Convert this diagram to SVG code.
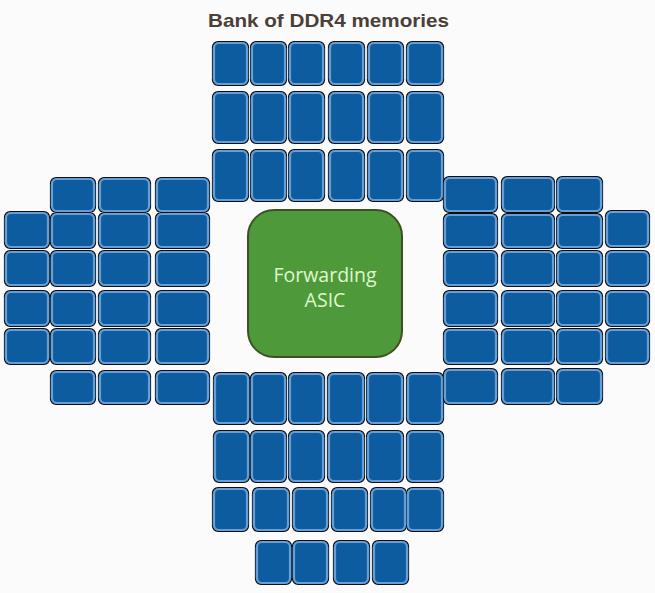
<svg xmlns="http://www.w3.org/2000/svg" width="655" height="593" viewBox="0 0 655 593">
<defs>
<filter id="outline" x="-5%" y="-5%" width="110%" height="110%">
<feMorphology in="SourceAlpha" operator="dilate" radius="1" result="d"/>
<feFlood flood-color="#111111"/>
<feComposite in2="d" operator="in" result="o"/>
<feMerge><feMergeNode in="o"/><feMergeNode in="SourceGraphic"/></feMerge>
</filter>
</defs>
<style>
.bank rect { fill:#0b5c9f; stroke:#669fd8; stroke-width:2.2; }
.title { font-family:"Liberation Sans", Arial, sans-serif; font-weight:bold; font-size:19px; fill:#4b4037; }
.asic-box { fill:#4e9a3a; stroke:#3f4f27; stroke-width:2; }
.asic-text { font-family:"Open Sans", "Noto Sans", sans-serif; font-size:19.5px; fill:#dff8cc; text-anchor:middle; }
</style>
<rect x="0" y="0" width="655" height="593" fill="#fbfbfb"/>
<text class="title" x="208" y="27" textLength="241" lengthAdjust="spacingAndGlyphs">Bank of DDR4 memories</text>

<g id="top-bank" class="bank" filter="url(#outline)">
<rect x="214" y="43" width="33" height="41" rx="5"/>
<rect x="252" y="43" width="33" height="41" rx="5"/>
<rect x="290" y="43" width="33" height="41" rx="5"/>
<rect x="330" y="43" width="33" height="41" rx="5"/>
<rect x="369" y="43" width="33" height="41" rx="5"/>
<rect x="408" y="43" width="34" height="41" rx="5"/>
<rect x="214" y="93" width="33" height="49" rx="5"/>
<rect x="252" y="93" width="33" height="49" rx="5"/>
<rect x="290" y="93" width="33" height="49" rx="5"/>
<rect x="330" y="93" width="33" height="49" rx="5"/>
<rect x="369" y="93" width="33" height="49" rx="5"/>
<rect x="408" y="93" width="34" height="49" rx="5"/>
<rect x="214" y="151" width="33" height="49" rx="5"/>
<rect x="252" y="151" width="33" height="49" rx="5"/>
<rect x="290" y="151" width="33" height="49" rx="5"/>
<rect x="330" y="151" width="33" height="49" rx="5"/>
<rect x="369" y="151" width="33" height="49" rx="5"/>
<rect x="408" y="151" width="34" height="49" rx="5"/>
</g>

<g id="bottom-bank" class="bank" filter="url(#outline)">
<rect x="215" y="374" width="33" height="49" rx="5"/>
<rect x="252" y="374" width="33" height="49" rx="5"/>
<rect x="290" y="374" width="33" height="49" rx="5"/>
<rect x="329" y="374" width="34" height="49" rx="5"/>
<rect x="368" y="374" width="34" height="49" rx="5"/>
<rect x="408" y="374" width="34" height="49" rx="5"/>
<rect x="215" y="432" width="33" height="49" rx="5"/>
<rect x="252" y="432" width="33" height="49" rx="5"/>
<rect x="290" y="432" width="33" height="49" rx="5"/>
<rect x="329" y="432" width="34" height="49" rx="5"/>
<rect x="368" y="432" width="34" height="49" rx="5"/>
<rect x="408" y="432" width="34" height="49" rx="5"/>
<rect x="214" y="489" width="33" height="41" rx="5"/>
<rect x="254" y="489" width="34" height="41" rx="5"/>
<rect x="294" y="489" width="33" height="41" rx="5"/>
<rect x="333" y="489" width="33" height="41" rx="5"/>
<rect x="372" y="489" width="33" height="41" rx="5"/>
<rect x="408" y="489" width="34" height="41" rx="5"/>
<rect x="257" y="542" width="33" height="41" rx="5"/>
<rect x="294" y="542" width="33" height="41" rx="5"/>
<rect x="335" y="542" width="33" height="41" rx="5"/>
<rect x="374" y="542" width="33" height="41" rx="5"/>
</g>

<g id="left-bank" class="bank" filter="url(#outline)">
<rect x="52" y="179" width="42" height="32" rx="5"/>
<rect x="100" y="179" width="49" height="32" rx="5"/>
<rect x="157" y="179" width="51" height="32" rx="5"/>
<rect x="6" y="213" width="42" height="34" rx="5"/>
<rect x="52" y="214" width="42" height="33" rx="5"/>
<rect x="100" y="214" width="49" height="33" rx="5"/>
<rect x="157" y="214" width="51" height="33" rx="5"/>
<rect x="6" y="252" width="42" height="33" rx="5"/>
<rect x="52" y="252" width="42" height="33" rx="5"/>
<rect x="100" y="252" width="49" height="33" rx="5"/>
<rect x="157" y="252" width="51" height="33" rx="5"/>
<rect x="6" y="292" width="42" height="33" rx="5"/>
<rect x="52" y="292" width="42" height="33" rx="5"/>
<rect x="100" y="292" width="49" height="33" rx="5"/>
<rect x="157" y="292" width="51" height="33" rx="5"/>
<rect x="6" y="330" width="42" height="33" rx="5"/>
<rect x="52" y="330" width="42" height="33" rx="5"/>
<rect x="100" y="330" width="49" height="33" rx="5"/>
<rect x="157" y="330" width="51" height="33" rx="5"/>
<rect x="52" y="372" width="42" height="31" rx="5"/>
<rect x="100" y="372" width="49" height="31" rx="5"/>
<rect x="157" y="372" width="51" height="31" rx="5"/>
</g>

<g id="right-bank" class="bank" filter="url(#outline)">
<rect x="445" y="178" width="51" height="33" rx="5"/>
<rect x="503" y="178" width="50" height="33" rx="5"/>
<rect x="558" y="178" width="43" height="33" rx="5"/>
<rect x="445" y="215" width="51" height="32" rx="5"/>
<rect x="503" y="215" width="50" height="32" rx="5"/>
<rect x="558" y="215" width="43" height="32" rx="5"/>
<rect x="607" y="212" width="41" height="34" rx="5"/>
<rect x="445" y="252" width="51" height="33" rx="5"/>
<rect x="503" y="252" width="50" height="33" rx="5"/>
<rect x="558" y="252" width="43" height="33" rx="5"/>
<rect x="607" y="252" width="41" height="33" rx="5"/>
<rect x="445" y="292" width="51" height="33" rx="5"/>
<rect x="503" y="292" width="50" height="33" rx="5"/>
<rect x="558" y="292" width="43" height="33" rx="5"/>
<rect x="607" y="292" width="41" height="33" rx="5"/>
<rect x="445" y="330" width="51" height="33" rx="5"/>
<rect x="503" y="330" width="50" height="33" rx="5"/>
<rect x="558" y="330" width="43" height="33" rx="5"/>
<rect x="607" y="330" width="41" height="33" rx="5"/>
<rect x="445" y="370" width="51" height="33" rx="5"/>
<rect x="503" y="370" width="50" height="33" rx="5"/>
<rect x="558" y="370" width="43" height="33" rx="5"/>
</g>

<g id="asic">
<rect class="asic-box" x="248" y="210" width="154" height="147" rx="26"/>
<text class="asic-text" x="325" y="282">Forwarding</text>
<text class="asic-text" x="325" y="307">ASIC</text>
</g>

<g id="connectors"/>
</svg>
